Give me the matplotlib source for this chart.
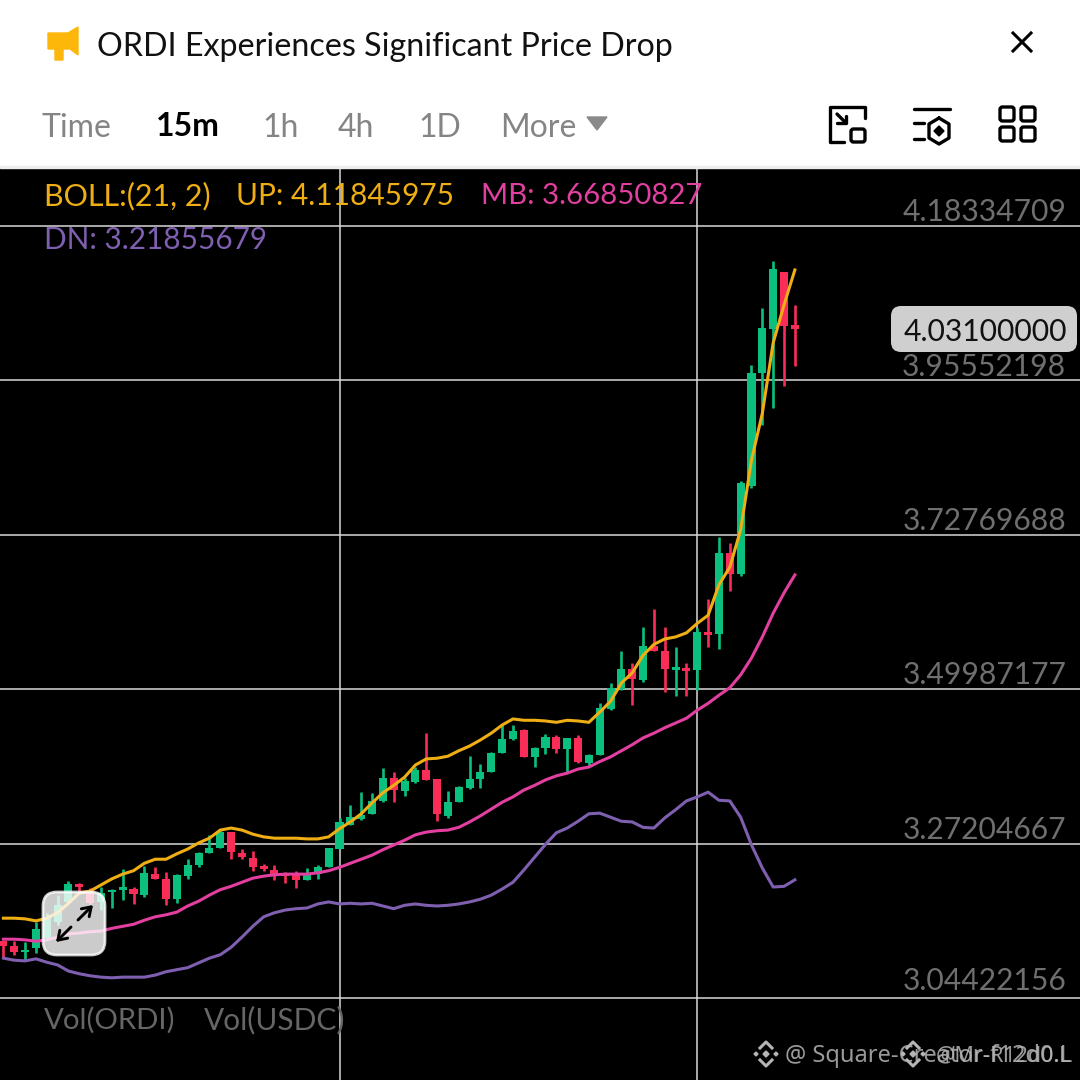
import matplotlib
matplotlib.use('Agg')
import matplotlib.pyplot as plt
from matplotlib.patches import FancyBboxPatch, Polygon

plt.rcParams['font.family'] = ['Lato', 'DejaVu Sans']

# price ticks on the right hand side
price_ticks = [4.18334709, 3.95552198, 3.72769688, 3.49987177, 3.27204667, 3.04422156]
last_price = 4.03100000

opens = [3.128, 3.121, 3.112, 3.118, 3.133, 3.156, 3.186, 3.212, 3.204, 3.186,
         3.201, 3.204, 3.205, 3.196, 3.227, 3.220, 3.190, 3.224, 3.240, 3.258,
         3.265, 3.289, 3.258, 3.251, 3.239, 3.233, 3.229, 3.227, 3.218, 3.227,
         3.237, 3.264, 3.299, 3.308, 3.316, 3.335, 3.369, 3.350, 3.363, 3.381,
         3.367, 3.313, 3.333, 3.354, 3.367, 3.378, 3.406, 3.426, 3.440, 3.400,
         3.413, 3.429, 3.411, 3.428, 3.391, 3.403, 3.471, 3.500, 3.530, 3.513,
         3.564, 3.556, 3.528, 3.531, 3.528, 3.584, 3.581, 3.701, 3.670, 3.800,
         3.966, 4.031, 4.115, 4.037]
closes = [3.121, 3.112, 3.115, 3.146, 3.162, 3.181, 3.212, 3.208, 3.184, 3.199,
          3.204, 3.208, 3.198, 3.229, 3.220, 3.190, 3.226, 3.240, 3.258, 3.265,
          3.289, 3.260, 3.252, 3.237, 3.235, 3.224, 3.224, 3.218, 3.226, 3.237,
          3.265, 3.304, 3.311, 3.314, 3.335, 3.369, 3.351, 3.364, 3.381, 3.366,
          3.316, 3.333, 3.355, 3.367, 3.378, 3.406, 3.426, 3.438, 3.400, 3.413,
          3.429, 3.411, 3.428, 3.393, 3.403, 3.472, 3.501, 3.530, 3.515, 3.564,
          3.556, 3.530, 3.533, 3.527, 3.584, 3.580, 3.701, 3.670, 3.804, 3.966,
          4.033, 4.120, 4.036, 4.031]
highs = [3.128, 3.128, 3.127, 3.156, 3.170, 3.196, 3.217, 3.214, 3.206, 3.208,
         3.205, 3.235, 3.208, 3.239, 3.237, 3.230, 3.227, 3.249, 3.260, 3.285,
         3.292, 3.289, 3.264, 3.261, 3.242, 3.240, 3.230, 3.232, 3.236, 3.240,
         3.265, 3.310, 3.329, 3.348, 3.347, 3.384, 3.378, 3.369, 3.385, 3.435,
         3.367, 3.350, 3.357, 3.401, 3.390, 3.407, 3.447, 3.447, 3.441, 3.414,
         3.434, 3.432, 3.428, 3.432, 3.404, 3.479, 3.509, 3.556, 3.539, 3.592,
         3.618, 3.592, 3.562, 3.539, 3.590, 3.633, 3.724, 3.716, 3.807, 3.978,
         4.062, 4.132, 4.115, 4.067]
lows = [3.105, 3.108, 3.100, 3.111, 3.130, 3.152, 3.184, 3.199, 3.181, 3.174,
        3.177, 3.189, 3.183, 3.193, 3.220, 3.181, 3.184, 3.220, 3.237, 3.258,
        3.265, 3.249, 3.249, 3.232, 3.232, 3.218, 3.214, 3.206, 3.218, 3.220,
        3.237, 3.264, 3.299, 3.307, 3.316, 3.333, 3.333, 3.342, 3.361, 3.366,
        3.305, 3.310, 3.333, 3.353, 3.354, 3.378, 3.406, 3.425, 3.400, 3.385,
        3.404, 3.406, 3.378, 3.391, 3.387, 3.403, 3.469, 3.499, 3.477, 3.510,
        3.556, 3.496, 3.490, 3.490, 3.499, 3.562, 3.559, 3.645, 3.667, 3.797,
        3.890, 3.915, 3.947, 3.977]

boll_up = [3.162, 3.162, 3.161, 3.158, 3.162, 3.170, 3.184, 3.199, 3.202, 3.211,
           3.220, 3.227, 3.232, 3.243, 3.249, 3.249, 3.257, 3.264, 3.273, 3.280,
           3.292, 3.295, 3.292, 3.286, 3.282, 3.280, 3.280, 3.280, 3.279, 3.279,
           3.282, 3.294, 3.304, 3.316, 3.332, 3.347, 3.358, 3.370, 3.388, 3.397,
           3.398, 3.401, 3.409, 3.416, 3.425, 3.435, 3.447, 3.456, 3.454, 3.454,
           3.453, 3.451, 3.454, 3.453, 3.451, 3.466, 3.482, 3.509, 3.524, 3.550,
           3.566, 3.574, 3.577, 3.583, 3.597, 3.609, 3.654, 3.680, 3.735, 3.838,
           3.907, 4.011, 4.067, 4.11845975]
boll_mb = [3.131, 3.131, 3.130, 3.128, 3.130, 3.134, 3.139, 3.140, 3.142, 3.143,
           3.147, 3.150, 3.153, 3.159, 3.164, 3.167, 3.171, 3.180, 3.187, 3.196,
           3.204, 3.209, 3.215, 3.221, 3.224, 3.226, 3.227, 3.227, 3.227, 3.229,
           3.232, 3.237, 3.243, 3.249, 3.255, 3.263, 3.270, 3.277, 3.285, 3.289,
           3.291, 3.292, 3.296, 3.304, 3.313, 3.323, 3.333, 3.341, 3.351, 3.358,
           3.366, 3.372, 3.376, 3.382, 3.385, 3.393, 3.400, 3.409, 3.418, 3.428,
           3.435, 3.443, 3.450, 3.457, 3.469, 3.479, 3.491, 3.502, 3.521, 3.546,
           3.577, 3.612, 3.642, 3.66850827]
boll_dn = [3.103, 3.100, 3.099, 3.102, 3.097, 3.093, 3.084, 3.080, 3.077, 3.075,
           3.074, 3.075, 3.075, 3.075, 3.078, 3.083, 3.086, 3.089, 3.096, 3.103,
           3.108, 3.119, 3.134, 3.150, 3.164, 3.170, 3.174, 3.176, 3.177, 3.183,
           3.186, 3.183, 3.184, 3.183, 3.184, 3.180, 3.176, 3.181, 3.183, 3.181,
           3.180, 3.181, 3.183, 3.186, 3.190, 3.196, 3.205, 3.215, 3.233, 3.252,
           3.271, 3.288, 3.295, 3.305, 3.316, 3.317, 3.311, 3.305, 3.304, 3.296,
           3.295, 3.310, 3.322, 3.335, 3.341, 3.348, 3.336, 3.335, 3.311, 3.270,
           3.236, 3.208, 3.209, 3.21855679]

vgrid_candles = [31, 64]

GREEN = '#0BC07F'
RED = '#FA2C58'
YELLOW = '#EFAE14'
PINK = '#E33FA1'
PURPLE = '#7F5FB0'
GRID = '#D8D8D8'
TICKGREY = '#6F6F6F'

fig = plt.figure(figsize=(10.8, 10.8), dpi=100, facecolor='white')

# chart part, black from y=168px down to the bottom
ax = fig.add_axes([0, 0, 1, (1080 - 168) / 1080], facecolor='black')
ax.set_xlim(-0.314, 99.3)
ax.set_ylim(2.92323, 4.26893)
ax.axis('off')
ax.add_patch(plt.Rectangle((0, 0), 1, 1, transform=ax.transAxes, color='black', zorder=0))

for t in price_ticks:
    # the lowest label sits a bit further off its line
    lift = 12 if t == price_ticks[-1] else 10
    ax.axhline(t, color=GRID, lw=1.1, zorder=1)
    ax.annotate('%.8f' % t, xy=(1, t), xycoords=('axes fraction', 'data'), xytext=(-10, lift),
                textcoords='offset points', ha='right', va='center', fontsize=21.6, color=TICKGREY, zorder=6)
for c in vgrid_candles:
    ax.axvline(c, color=GRID, lw=1.1, zorder=1)

idx = list(range(len(opens)))
cols = [GREEN if c >= o else RED for o, c in zip(opens, closes)]
ax.vlines(idx, lows, highs, colors=cols, lw=1.9, zorder=2)
ax.bar(idx, [abs(c - o) for o, c in zip(opens, closes)], bottom=[min(o, c) for o, c in zip(opens, closes)],
       width=0.74, color=cols, zorder=3)

ax.plot(idx, boll_dn, color=PURPLE, lw=2.2, zorder=4)
ax.plot(idx, boll_mb, color=PINK, lw=2.2, zorder=4)
ax.plot(idx, boll_up, color=YELLOW, lw=2.2, zorder=5)

# everything else: app chrome in pixel coordinates
ov = fig.add_axes([0, 0, 1, 1], facecolor='none')
ov.set_xlim(0, 1080)
ov.set_ylim(1080, 0)
ov.axis('off')

ov.add_patch(plt.Rectangle((0, 0), 1080, 166, color='white', zorder=1))
ov.add_patch(plt.Rectangle((0, 166), 1080, 2, color='#EEEEEE', zorder=1))

ov.add_patch(Polygon([(48, 33), (68, 33), (78, 27), (78, 55), (70, 49), (63, 49), (63, 60), (55, 60), (55, 49), (48, 49)],
                     closed=True, color='#FDB60A', zorder=2))
ov.text(97, 47, 'ORDI Experiences Significant Price Drop', fontsize=23.2, color='#111111', va='center', ha='left', zorder=3)
ov.plot([1013, 1031], [33, 51], color='black', lw=2.2, zorder=3)
ov.plot([1013, 1031], [51, 33], color='black', lw=2.2, zorder=3)

tabs = [('Time', 42), ('1h', 262), ('4h', 338), ('1D', 418), ('More', 500)]
for name, x in tabs:
    ov.text(x, 128, name, fontsize=23, color='#858585', va='center', ha='left', zorder=3)
ov.text(156, 127, '15m', fontsize=23, color='black', va='center', ha='left', fontweight='bold', zorder=3)
ov.add_patch(Polygon([(587, 117), (607, 117), (597, 130)], closed=True, color='#8A8A8A', zorder=3))


def box(x0, y0, x1, y1, r=2.5, **kw):
    ov.add_patch(FancyBboxPatch((x0 + r, y0 + r), x1 - x0 - 2 * r, y1 - y0 - 2 * r,
                                boxstyle='round,pad=%f,rounding_size=%f' % (r, r), **kw))


# toolbar icons
ICON = dict(color='black', lw=2.4, solid_capstyle='round', solid_joinstyle='round', zorder=3)
ov.plot([844, 830, 830, 865, 865], [142, 142, 107, 107, 118], **ICON)
ov.plot([837, 846], [114, 123], **ICON)
ov.plot([837, 846, 846], [123, 123, 116], **ICON)
box(851, 129, 865, 142, fc='none', ec='black', lw=2.4, zorder=3)
ov.plot([914, 950], [109, 109], **ICON)
ov.plot([914, 924], [123, 123], **ICON)
ov.plot([914, 924], [139, 139], **ICON)
ov.plot([939, 949, 949, 939, 929, 929, 939], [118, 124, 138, 144, 138, 124, 118], **ICON)
ov.add_patch(Polygon([(939, 126), (944, 131), (939, 136), (934, 131)], closed=True, color='black', zorder=3))
for x0 in (1000, 1021):
    for y0 in (107, 127):
        box(x0, y0, x0 + 14, y0 + 14, fc='none', ec='black', lw=2.4, zorder=3)

# indicator legend
ov.text(44, 196, 'BOLL:(21, 2)', fontsize=22, color=YELLOW, va='center', zorder=3)
ov.text(236, 196, 'UP: 4.11845975', fontsize=21.5, color=YELLOW, va='center', zorder=3)
ov.text(481, 196, 'MB: 3.66850827', fontsize=21.2, color=PINK, va='center', zorder=3)
ov.text(44, 240, 'DN: 3.21855679', fontsize=21.4, color=PURPLE, va='center', zorder=3)
ov.text(44, 1020, 'Vol(ORDI)', fontsize=21.2, color='#666666', va='center', zorder=3)
ov.text(204, 1020, 'Vol(USDC)', fontsize=21.5, color='#666666', va='center', zorder=3)

# last price tag
box(891, 306, 1077, 352, r=10, fc='#CFCFCF', ec='none', zorder=6)
ov.text(985, 332, '%.8f' % last_price, fontsize=21.6, color='#111111', ha='center', va='center', zorder=7)

# expand button
box(43, 892, 105, 955, r=14, fc='white', ec='white', lw=2, alpha=0.8, zorder=6)
ARROW = dict(arrowstyle='->,head_length=0.6,head_width=0.4', color='black', lw=2.1, shrinkA=0, shrinkB=0)
ov.annotate('', xy=(93, 905), xytext=(78, 920), arrowprops=ARROW, zorder=7)
ov.annotate('', xy=(56, 942), xytext=(71, 927), arrowprops=ARROW, zorder=7)


# watermark, two of them lying over each other
def logo(cx, cy):
    col = '#B5B5B5'
    ov.add_patch(Polygon([(cx, cy - 3), (cx + 3, cy), (cx, cy + 3), (cx - 3, cy)], closed=True, color=col, zorder=8))
    ov.add_patch(Polygon([(cx - 12, cy), (cx - 10, cy - 2), (cx - 8, cy), (cx - 10, cy + 2)], closed=True, color=col, zorder=8))
    ov.add_patch(Polygon([(cx + 12, cy), (cx + 10, cy - 2), (cx + 8, cy), (cx + 10, cy + 2)], closed=True, color=col, zorder=8))
    ov.plot([cx - 6, cx, cx + 6], [cy - 6, cy - 12, cy - 6], color=col, lw=2.2, zorder=8)
    ov.plot([cx - 6, cx, cx + 6], [cy + 6, cy + 12, cy + 6], color=col, lw=2.2, zorder=8)


logo(766, 1054)
logo(913, 1054)
ov.text(785, 1056, '@ Square-Creator-f12d0.L', fontsize=17, color='#B5B5B5', va='center', family='Noto Sans', alpha=0.85, zorder=8)
ov.text(936, 1056, '@Mr-R12d0.L', fontsize=15.5, color='#B5B5B5', va='center', family='Noto Sans', alpha=0.85, zorder=8)

fig.savefig('out.png', dpi=100, facecolor='white')
